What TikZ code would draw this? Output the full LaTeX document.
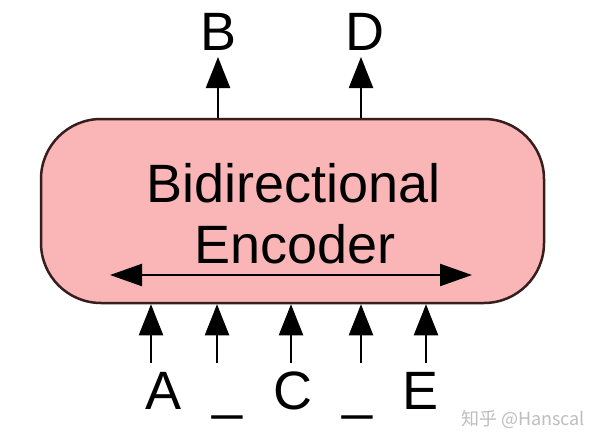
\documentclass[tikz,border=0pt]{standalone}
\usepackage{fontspec}
\setmainfont{Liberation Sans}
\newfontfamily\cjk{Noto Sans CJK SC}
\usetikzlibrary{arrows.meta}
\definecolor{boxfill}{RGB}{250,182,182}
\definecolor{boxline}{RGB}{55,30,30}
\definecolor{wm}{RGB}{190,190,190}
\tikzset{
  arr/.style={line width=2.2pt, -{Triangle[length=31pt,width=24pt]}},
  darr/.style={line width=2.2pt, {Triangle[length=32pt,width=22pt]}-{Triangle[length=32pt,width=22pt]}},
  lab/.style={font=\fontsize{54}{60}\selectfont, anchor=base, inner sep=0pt},
}
\begin{document}
\begin{tikzpicture}[x=1pt,y=-1pt]
\useasboundingbox[fill=white] (0,0) rectangle (600,442);
\node[draw=boxline, fill=boxfill, line width=2.5pt, rounded corners=60pt,
      minimum width=503pt, minimum height=184pt, inner sep=0pt] (enc) at (292.5,211) {};
\node[lab] (t1) at (293.5,202) {Bidirectional};
\node[lab] (t2) at (295,263) {Encoder};
\coordinate (hl) at (110,275);
\coordinate (hr) at (472,275);
\draw[darr] (hl) -- (hr);
% inputs
\coordinate (ia) at (151,363);
\coordinate (ib) at (217,363);
\coordinate (ic) at (291,363);
\coordinate (id) at (361,363);
\coordinate (ie) at (426,363);
\foreach \c in {ia,ib,ic,id,ie} \draw[arr] (\c) -- (\c |- enc.south);
\node[lab] (la) at (164,409) {A};
\node[lab] (lb) at (228,408) {\_};
\node[lab] (lc) at (293,409) {C};
\node[lab] (ld) at (358,408) {\_};
\node[lab] (le) at (421,409) {E};
% outputs
\coordinate (ob) at (218,57);
\coordinate (od) at (361,57);
\draw[arr] (ob |- enc.north) -- (ob);
\draw[arr] (od |- enc.north) -- (od);
\node[lab] (lB) at (219,50) {B};
\node[lab] (lD) at (365,50) {D};
\node[text=wm, font=\cjk\fontsize{18}{20}\selectfont, inner sep=0pt] (wmk) at (523,419) {知乎 @Hanscal};
\end{tikzpicture}
\end{document}
